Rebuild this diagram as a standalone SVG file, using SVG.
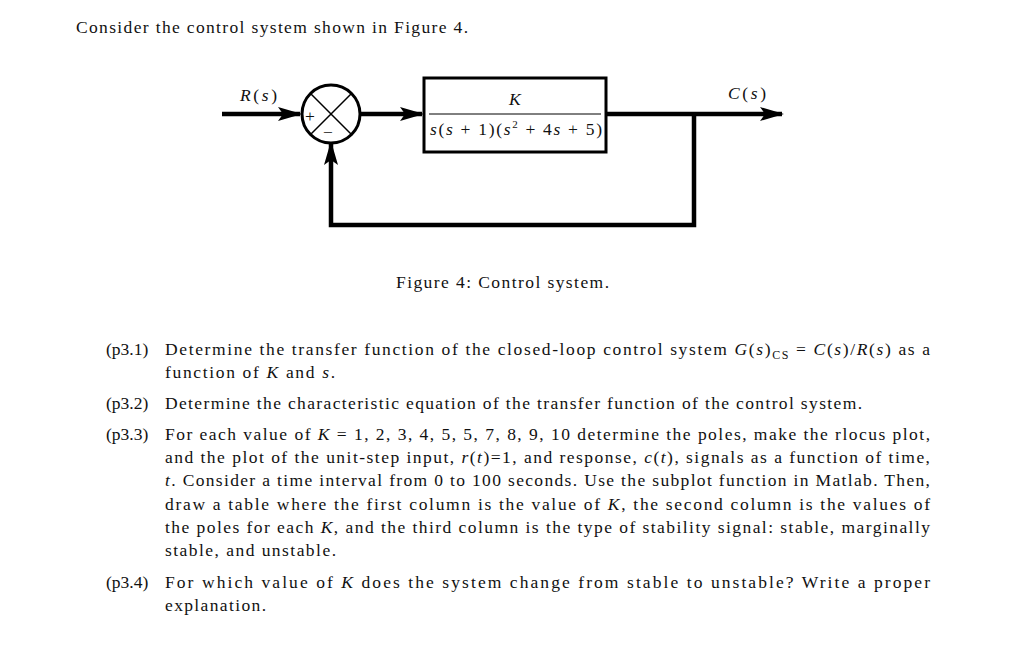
<svg xmlns="http://www.w3.org/2000/svg" width="1024" height="646" viewBox="0 0 1024 646">
<style>
text{font-family:"Liberation Serif","DejaVu Serif",serif;font-size:17.5px;fill:#111}
.i{font-style:italic}
.w{stroke:#000;stroke-width:4.5;fill:none}
</style>
<defs><marker id="a" markerWidth="24" markerHeight="14" refX="22" refY="7" orient="auto" markerUnits="userSpaceOnUse"><path d="M0,0 L24,7 L0,14 L5,7z" fill="#000"/></marker></defs>
<rect width="1024" height="646" fill="#fff"/>
<text x="76" y="33" textLength="392" lengthAdjust="spacing">Consider the control system shown in Figure 4.</text>
<g id="connectors">
<path class="w" d="M222,114 H300" marker-end="url(#a)"/>
<path class="w" d="M360,114 H422" marker-end="url(#a)"/>
<path class="w" d="M606,114 H782" marker-end="url(#a)"/>
<path class="w" d="M694,114 V225 H331 V143" marker-end="url(#a)"/>
</g>
<g id="sum">
<circle cx="331" cy="114" r="29" fill="#fff" stroke="#000" stroke-width="3"/>
<path d="M310.5,93.5 L351.5,134.5 M351.5,93.5 L310.5,134.5" stroke="#000" stroke-width="1.5"/>
<text x="305" y="122" font-size="20">+</text>
<text x="323" y="138" font-size="20">−</text>
</g>
<g id="plant">
<rect x="424" y="78" width="182" height="74" fill="#fff" stroke="#000" stroke-width="3"/>
<line x1="429" y1="114" x2="601" y2="114" stroke="#000" stroke-width="1"/>
<text x="509" y="105" class="i">K</text>
<text x="430" y="135" textLength="172" lengthAdjust="spacing"><tspan class="i">s</tspan>(<tspan class="i">s</tspan> + 1)(<tspan class="i">s</tspan><tspan font-size="11" dy="-7">2</tspan><tspan dy="7"> + 4</tspan><tspan class="i">s</tspan> + 5)</text>
</g>
<text x="240" y="101" textLength="37" lengthAdjust="spacing"><tspan class="i">R</tspan>(<tspan class="i">s</tspan>)</text>
<text x="728" y="99" textLength="38" lengthAdjust="spacing"><tspan class="i">C</tspan>(<tspan class="i">s</tspan>)</text>
<text x="396" y="288" textLength="213" lengthAdjust="spacing">Figure 4: Control system.</text>
<g>
<text x="106" y="355">(p3.1)</text>
<text x="106" y="409">(p3.2)</text>
<text x="106" y="440">(p3.3)</text>
<text x="106" y="588">(p3.4)</text>
</g>
<text x="165" y="355" textLength="765" lengthAdjust="spacing">Determine the transfer function of the closed-loop control system <tspan class="i">G</tspan>(<tspan class="i">s</tspan>)<tspan font-size="12" dy="4">CS</tspan><tspan dy="-4"> = </tspan><tspan class="i">C</tspan>(<tspan class="i">s</tspan>)/<tspan class="i">R</tspan>(<tspan class="i">s</tspan>) as a</text>
<text x="165" y="378" textLength="170" lengthAdjust="spacing">function of <tspan class="i">K</tspan> and <tspan class="i">s</tspan>.</text>
<text x="165" y="409" textLength="697" lengthAdjust="spacing">Determine the characteristic equation of the transfer function of the control system.</text>
<text x="165" y="440" textLength="765" lengthAdjust="spacing">For each value of <tspan class="i">K</tspan> = 1, 2, 3, 4, 5, 5, 7, 8, 9, 10 determine the poles, make the rlocus plot,</text>
<text x="165" y="463" textLength="765" lengthAdjust="spacing">and the plot of the unit-step input, <tspan class="i">r</tspan>(<tspan class="i">t</tspan>)=1, and response, <tspan class="i">c</tspan>(<tspan class="i">t</tspan>), signals as a function of time,</text>
<text x="165" y="486" textLength="765" lengthAdjust="spacing"><tspan class="i">t</tspan>. Consider a time interval from 0 to 100 seconds. Use the subplot function in Matlab. Then,</text>
<text x="165" y="510" textLength="765" lengthAdjust="spacing">draw a table where the first column is the value of <tspan class="i">K</tspan>, the second column is the values of</text>
<text x="165" y="533" textLength="765" lengthAdjust="spacing">the poles for each <tspan class="i">K</tspan>, and the third column is the type of stability signal: stable, marginally</text>
<text x="165" y="556" textLength="171" lengthAdjust="spacing">stable, and unstable.</text>
<text x="165" y="588" textLength="765" lengthAdjust="spacing">For which value of <tspan class="i">K</tspan> does the system change from stable to unstable?  Write a proper</text>
<text x="165" y="611" textLength="101" lengthAdjust="spacing">explanation.</text>
</svg>
